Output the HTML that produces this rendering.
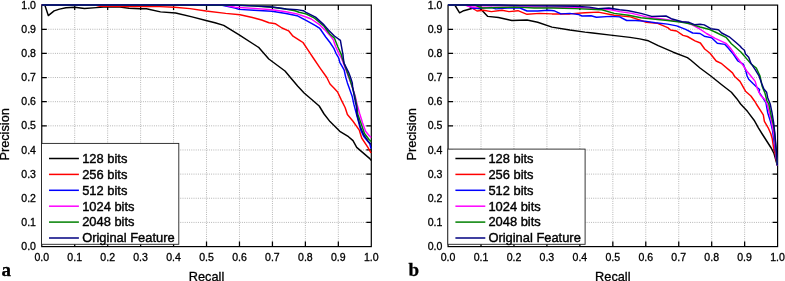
<!DOCTYPE html>
<html><head><meta charset="utf-8"><title>Precision-Recall</title>
<style>
html,body{margin:0;padding:0;background:#fff;}
svg{display:block;filter:blur(0.35px);}
.tk{font-family:"Liberation Sans",Arial,sans-serif;font-size:10.55px;fill:#000;stroke:#000;stroke-width:0.3px;}
.lg{font-family:"Liberation Sans",Arial,sans-serif;font-size:12.9px;fill:#000;stroke:#000;stroke-width:0.4px;}
.ax{font-family:"Liberation Sans",Arial,sans-serif;font-size:12.75px;fill:#000;stroke:#000;stroke-width:0.3px;}
.lt{font-family:"Liberation Serif","Times New Roman",serif;font-size:19px;font-weight:bold;fill:#000;stroke:#000;stroke-width:0.3px;}
</style></head><body>
<svg width="785" height="281" viewBox="0 0 785 281">
<rect width="785" height="281" fill="#fff"/>
<g>
<path d="M74.70 5.1V246.55M41.75 29.25H371.30M107.66 5.1V246.55M41.75 53.39H371.30M140.62 5.1V246.55M41.75 77.53H371.30M173.57 5.1V246.55M41.75 101.68H371.30M206.52 5.1V246.55M41.75 125.83H371.30M239.48 5.1V246.55M41.75 149.97H371.30M272.44 5.1V246.55M41.75 174.12H371.30M305.39 5.1V246.55M41.75 198.26H371.30M338.34 5.1V246.55M41.75 222.41H371.30" stroke="#8c8c8c" stroke-width="0.7" stroke-dasharray="0.9 1.3" fill="none"/>
<rect x="41.75" y="5.1" width="329.55" height="241.5" fill="none" stroke="#000" stroke-width="1.2"/>
<path d="M74.70 246.55v-5.0M74.70 5.1v5.0M41.75 29.25h5.0M371.30 29.25h-5.0M107.66 246.55v-5.0M107.66 5.1v5.0M41.75 53.39h5.0M371.30 53.39h-5.0M140.62 246.55v-5.0M140.62 5.1v5.0M41.75 77.53h5.0M371.30 77.53h-5.0M173.57 246.55v-5.0M173.57 5.1v5.0M41.75 101.68h5.0M371.30 101.68h-5.0M206.52 246.55v-5.0M206.52 5.1v5.0M41.75 125.83h5.0M371.30 125.83h-5.0M239.48 246.55v-5.0M239.48 5.1v5.0M41.75 149.97h5.0M371.30 149.97h-5.0M272.44 246.55v-5.0M272.44 5.1v5.0M41.75 174.12h5.0M371.30 174.12h-5.0M305.39 246.55v-5.0M305.39 5.1v5.0M41.75 198.26h5.0M371.30 198.26h-5.0M338.34 246.55v-5.0M338.34 5.1v5.0M41.75 222.41h5.0M371.30 222.41h-5.0" stroke="#000" stroke-width="1.25" fill="none"/>
<polyline points="41.8,5.0 44.8,5.0 48.3,15.6 54.1,10.9 59.5,9.1 66.0,7.8 74.7,7.2 84.5,8.5 96.4,7.6 107.3,6.9 118.2,6.9 129.0,8.2 139.9,8.7 146.4,8.7 160.5,11.9 175.7,13.0 192.0,16.9 206.0,20.5 215.0,22.7 223.7,25.4 238.8,34.6 257.2,46.5 259.0,47.7 268.8,59.0 285.0,71.0 290.0,77.0 297.6,86.0 304.1,93.0 311.7,99.5 319.2,106.0 324.1,114.0 330.0,121.6 339.8,131.3 348.5,136.7 353.0,140.6 356.7,147.4 369.8,158.6 371.3,160.5" stroke="#000000" stroke-width="1.45" fill="none" stroke-linejoin="round" stroke-linecap="butt"/>
<polyline points="41.8,5.0 95.0,5.0 100.0,6.4 130.0,6.5 160.0,6.6 174.6,7.2 190.0,8.6 206.0,11.0 225.7,13.4 240.0,14.8 252.4,17.5 261.6,20.0 269.0,22.7 275.6,23.8 282.0,28.0 288.6,30.8 293.0,36.2 300.0,40.6 303.0,42.5 308.4,50.6 313.3,58.0 320.3,68.3 326.8,77.5 330.0,84.0 333.9,88.0 337.6,92.0 341.4,100.1 345.2,107.7 347.4,114.5 352.8,121.0 359.3,130.2 361.7,138.0 367.9,147.4 371.0,153.0" stroke="#ff0000" stroke-width="1.45" fill="none" stroke-linejoin="round" stroke-linecap="butt"/>
<polyline points="41.8,5.0 221.0,5.0 227.0,6.4 235.0,8.0 239.0,9.4 254.0,10.2 272.0,11.3 286.0,13.5 297.0,15.7 305.6,20.2 315.5,25.6 319.8,28.4 320.9,30.0 325.7,37.0 330.0,42.5 333.9,48.4 336.0,53.3 338.7,58.0 339.8,62.3 344.1,69.9 345.8,77.5 347.4,82.9 348.5,86.0 352.3,96.8 353.9,104.4 355.6,110.9 358.2,120.5 360.8,130.2 363.6,136.2 369.8,143.7 371.0,148.7" stroke="#0000ff" stroke-width="1.45" fill="none" stroke-linejoin="round" stroke-linecap="butt"/>
<polyline points="41.8,5.0 224.0,5.0 235.0,7.3 254.0,8.4 272.0,9.7 286.0,11.8 297.0,13.9 306.0,17.0 311.2,19.0 319.8,24.9 325.5,30.6 329.5,34.9 333.3,39.7 335.5,46.2 338.7,53.3 341.4,58.0 346.3,71.0 349.6,79.7 352.6,88.0 355.4,96.8 357.1,104.4 359.8,114.0 362.5,122.7 365.6,131.3 369.5,136.0 371.2,137.5" stroke="#ff00ff" stroke-width="1.45" fill="none" stroke-linejoin="round" stroke-linecap="butt"/>
<polyline points="41.8,5.0 240.0,5.2 255.0,6.0 272.0,7.2 284.0,8.8 295.0,10.8 299.0,12.3 306.0,13.9 314.0,17.8 324.0,26.3 326.8,30.0 330.0,34.3 334.4,38.1 337.6,46.2 341.4,54.9 342.2,58.0 346.8,71.0 350.0,79.7 352.6,88.0 355.0,96.8 356.8,106.0 357.7,114.0 361.5,124.8 364.5,133.5 369.0,139.5 371.2,141.5" stroke="#008000" stroke-width="1.45" fill="none" stroke-linejoin="round" stroke-linecap="butt"/>
<polyline points="41.8,5.0 232.0,5.0 254.0,5.9 272.3,7.0 286.2,9.0 297.0,9.6 303.3,10.7 306.0,12.3 315.5,17.1 324.0,24.9 328.4,30.0 334.4,36.0 340.4,40.3 341.4,46.2 343.0,54.9 343.3,58.0 344.1,63.4 348.5,72.1 350.6,77.5 352.3,82.9 352.5,86.0 354.4,96.8 356.6,107.7 356.8,114.0 360.4,127.0 363.6,134.6 368.0,141.0 371.2,144.5" stroke="#000080" stroke-width="1.45" fill="none" stroke-linejoin="round" stroke-linecap="butt"/>
<rect x="41.5" y="143.4" width="137.3" height="100.9" fill="#fff" stroke="#222" stroke-width="0.9"/>
<path d="M49.0 158.5h29.9" stroke="#000000" stroke-width="1.5"/>
<text x="82.2" y="162.8" class="lg">128 bits</text>
<path d="M49.0 174.4h29.9" stroke="#ff0000" stroke-width="1.5"/>
<text x="82.2" y="178.7" class="lg">256 bits</text>
<path d="M49.0 190.3h29.9" stroke="#0000ff" stroke-width="1.5"/>
<text x="82.2" y="194.6" class="lg">512 bits</text>
<path d="M49.0 206.2h29.9" stroke="#ff00ff" stroke-width="1.5"/>
<text x="82.2" y="210.5" class="lg">1024 bits</text>
<path d="M49.0 222.1h29.9" stroke="#008000" stroke-width="1.5"/>
<text x="82.2" y="226.4" class="lg">2048 bits</text>
<path d="M49.0 238.0h29.9" stroke="#000080" stroke-width="1.5"/>
<text x="82.2" y="242.3" class="lg">Original Feature</text>
<text x="41.8" y="260.9" class="tk" text-anchor="middle">0.0</text>
<text x="36.0" y="250.1" class="tk" text-anchor="end">0.0</text>
<text x="74.7" y="260.9" class="tk" text-anchor="middle">0.1</text>
<text x="36.0" y="226.0" class="tk" text-anchor="end">0.1</text>
<text x="107.7" y="260.9" class="tk" text-anchor="middle">0.2</text>
<text x="36.0" y="201.8" class="tk" text-anchor="end">0.2</text>
<text x="140.6" y="260.9" class="tk" text-anchor="middle">0.3</text>
<text x="36.0" y="177.7" class="tk" text-anchor="end">0.3</text>
<text x="173.6" y="260.9" class="tk" text-anchor="middle">0.4</text>
<text x="36.0" y="153.5" class="tk" text-anchor="end">0.4</text>
<text x="206.5" y="260.9" class="tk" text-anchor="middle">0.5</text>
<text x="36.0" y="129.4" class="tk" text-anchor="end">0.5</text>
<text x="239.5" y="260.9" class="tk" text-anchor="middle">0.6</text>
<text x="36.0" y="105.2" class="tk" text-anchor="end">0.6</text>
<text x="272.4" y="260.9" class="tk" text-anchor="middle">0.7</text>
<text x="36.0" y="81.1" class="tk" text-anchor="end">0.7</text>
<text x="305.4" y="260.9" class="tk" text-anchor="middle">0.8</text>
<text x="36.0" y="56.9" class="tk" text-anchor="end">0.8</text>
<text x="338.3" y="260.9" class="tk" text-anchor="middle">0.9</text>
<text x="36.0" y="32.8" class="tk" text-anchor="end">0.9</text>
<text x="371.3" y="260.9" class="tk" text-anchor="middle">1.0</text>
<text x="36.0" y="8.6" class="tk" text-anchor="end">1.0</text>
<text x="206.5" y="280.7" class="ax" text-anchor="middle">Recall</text>
<text transform="translate(9.2 134.4) rotate(-90)" class="ax" text-anchor="middle">Precision</text>
<text x="1.5" y="276.3" class="lt">a</text>
</g>
<g>
<path d="M481.00 5.1V246.55M448.05 29.25H777.60M513.96 5.1V246.55M448.05 53.39H777.60M546.91 5.1V246.55M448.05 77.53H777.60M579.87 5.1V246.55M448.05 101.68H777.60M612.83 5.1V246.55M448.05 125.83H777.60M645.78 5.1V246.55M448.05 149.97H777.60M678.74 5.1V246.55M448.05 174.12H777.60M711.69 5.1V246.55M448.05 198.26H777.60M744.64 5.1V246.55M448.05 222.41H777.60" stroke="#8c8c8c" stroke-width="0.7" stroke-dasharray="0.9 1.3" fill="none"/>
<rect x="448.05" y="5.1" width="329.55" height="241.5" fill="none" stroke="#000" stroke-width="1.2"/>
<path d="M481.00 246.55v-5.0M481.00 5.1v5.0M448.05 29.25h5.0M777.60 29.25h-5.0M513.96 246.55v-5.0M513.96 5.1v5.0M448.05 53.39h5.0M777.60 53.39h-5.0M546.91 246.55v-5.0M546.91 5.1v5.0M448.05 77.53h5.0M777.60 77.53h-5.0M579.87 246.55v-5.0M579.87 5.1v5.0M448.05 101.68h5.0M777.60 101.68h-5.0M612.83 246.55v-5.0M612.83 5.1v5.0M448.05 125.83h5.0M777.60 125.83h-5.0M645.78 246.55v-5.0M645.78 5.1v5.0M448.05 149.97h5.0M777.60 149.97h-5.0M678.74 246.55v-5.0M678.74 5.1v5.0M448.05 174.12h5.0M777.60 174.12h-5.0M711.69 246.55v-5.0M711.69 5.1v5.0M448.05 198.26h5.0M777.60 198.26h-5.0M744.64 246.55v-5.0M744.64 5.1v5.0M448.05 222.41h5.0M777.60 222.41h-5.0" stroke="#000" stroke-width="1.25" fill="none"/>
<polyline points="448.0,5.0 454.8,5.0 459.6,12.8 463.7,10.7 473.5,8.0 480.7,8.9 487.8,16.4 498.5,17.5 511.9,20.5 527.0,20.0 537.7,22.3 552.0,27.1 569.8,30.0 585.0,32.1 592.8,33.0 610.7,35.1 630.0,37.4 639.7,38.9 648.4,40.8 658.2,45.7 673.3,52.2 687.4,57.6 690.6,60.0 700.0,68.0 710.8,76.0 721.7,84.7 731.4,92.2 736.8,98.7 740.6,104.0 747.6,111.6 754.1,120.2 758.4,127.8 762.2,134.0 771.2,148.0 774.0,153.5 777.3,165.3" stroke="#000000" stroke-width="1.45" fill="none" stroke-linejoin="round" stroke-linecap="butt"/>
<polyline points="448.0,5.0 467.0,5.0 477.0,11.0 483.3,10.3 491.4,11.6 502.0,10.3 509.0,11.6 518.0,10.7 527.0,14.3 539.5,13.4 552.0,13.9 569.8,13.9 585.0,12.8 598.2,12.1 614.2,15.2 630.3,16.9 646.3,22.3 657.0,23.2 667.7,27.6 670.6,30.0 676.6,31.0 683.0,35.4 687.4,36.5 695.0,40.8 700.4,43.0 704.7,49.0 710.0,53.3 716.2,61.0 721.7,63.7 732.5,72.9 734.7,76.5 740.0,81.4 745.5,91.2 750.9,96.0 755.2,102.0 756.3,104.0 763.3,114.8 764.4,121.3 768.2,127.8 770.9,134.0 772.2,138.5 773.6,147.8 775.2,154.0 777.3,165.3" stroke="#ff0000" stroke-width="1.45" fill="none" stroke-linejoin="round" stroke-linecap="butt"/>
<polyline points="448.0,5.0 467.0,5.0 469.5,6.4 473.5,8.6 480.7,8.0 491.4,7.5 495.8,8.9 507.4,8.0 520.0,8.0 527.0,11.0 537.7,11.0 548.4,10.3 553.8,10.7 561.0,13.9 569.8,13.4 578.8,14.6 582.0,16.0 591.0,15.7 596.4,17.3 610.7,16.4 619.6,16.9 626.7,20.5 635.6,20.5 646.3,21.4 655.3,22.8 667.7,24.1 676.7,25.9 685.6,29.4 692.7,33.0 700.0,33.5 704.3,36.2 711.9,37.9 717.3,43.3 724.9,44.4 728.2,48.0 733.6,54.5 737.9,61.0 743.3,64.2 745.5,69.7 747.1,76.0 748.7,79.2 753.0,83.6 756.3,86.8 759.6,89.5 759.0,92.2 762.8,97.7 766.0,103.0 767.7,112.7 770.4,121.3 772.5,130.0 773.0,134.0 775.5,152.0 777.3,165.3" stroke="#0000ff" stroke-width="1.45" fill="none" stroke-linejoin="round" stroke-linecap="butt"/>
<polyline points="448.0,5.0 465.0,5.0 470.0,6.8 478.0,7.3 500.0,7.2 520.0,7.0 534.0,6.9 552.0,7.2 575.0,7.3 596.4,8.6 610.7,9.8 619.6,11.6 632.0,13.4 646.3,16.9 660.6,18.7 674.9,21.0 685.6,22.3 692.7,25.0 700.0,29.2 706.5,33.5 715.2,38.4 726.0,43.3 730.3,48.0 735.7,55.6 742.2,64.2 746.6,70.7 750.9,76.0 755.2,81.4 757.4,89.0 760.6,95.5 765.0,99.8 767.0,104.0 769.3,112.7 771.5,121.3 773.0,130.0 774.0,134.0 775.8,152.0 777.3,165.3" stroke="#ff00ff" stroke-width="1.45" fill="none" stroke-linejoin="round" stroke-linecap="butt"/>
<polyline points="448.0,5.0 475.0,5.0 478.9,6.8 482.5,8.0 498.5,7.5 516.3,7.1 534.2,8.0 552.0,8.0 575.0,8.6 601.8,9.8 614.2,13.4 628.5,15.2 641.0,17.8 655.3,19.3 667.7,20.5 682.0,22.3 691.0,24.1 700.0,27.0 708.7,29.2 716.2,32.5 726.0,37.3 731.4,43.8 736.3,48.0 741.1,52.3 747.6,59.9 750.9,63.7 756.3,68.0 759.6,75.0 760.0,76.0 762.3,86.8 765.0,93.3 767.0,101.0 768.8,104.0 771.0,114.8 773.6,125.7 774.7,134.0 776.2,152.0 777.3,165.3" stroke="#008000" stroke-width="1.45" fill="none" stroke-linejoin="round" stroke-linecap="butt"/>
<polyline points="448.0,5.0 500.0,5.0 520.0,5.6 560.0,6.0 575.0,6.3 589.3,7.1 598.2,8.6 608.9,8.0 619.6,9.8 628.5,10.7 641.0,13.4 651.7,16.4 666.0,16.0 671.3,18.7 682.0,21.8 689.0,22.3 694.5,24.6 700.0,24.3 704.3,24.9 710.8,28.7 718.4,29.7 721.7,33.0 729.2,36.8 735.7,42.2 740.0,46.0 741.7,48.0 744.4,50.2 745.5,54.0 748.7,57.2 750.9,63.2 755.2,69.7 759.0,76.0 761.7,83.6 763.9,89.0 766.6,92.2 767.7,97.7 770.2,104.0 772.0,112.7 773.6,122.4 774.9,134.0 776.5,152.0 777.3,165.3" stroke="#000080" stroke-width="1.45" fill="none" stroke-linejoin="round" stroke-linecap="butt"/>
<rect x="447.8" y="149.1" width="137.3" height="95.2" fill="#fff" stroke="#222" stroke-width="0.9"/>
<path d="M455.4 158.5h29.9" stroke="#000000" stroke-width="1.5"/>
<text x="488.4" y="162.8" class="lg">128 bits</text>
<path d="M455.4 174.4h29.9" stroke="#ff0000" stroke-width="1.5"/>
<text x="488.4" y="178.7" class="lg">256 bits</text>
<path d="M455.4 190.3h29.9" stroke="#0000ff" stroke-width="1.5"/>
<text x="488.4" y="194.6" class="lg">512 bits</text>
<path d="M455.4 206.2h29.9" stroke="#ff00ff" stroke-width="1.5"/>
<text x="488.4" y="210.5" class="lg">1024 bits</text>
<path d="M455.4 222.1h29.9" stroke="#008000" stroke-width="1.5"/>
<text x="488.4" y="226.4" class="lg">2048 bits</text>
<path d="M455.4 238.0h29.9" stroke="#000080" stroke-width="1.5"/>
<text x="488.4" y="242.3" class="lg">Original Feature</text>
<text x="448.1" y="260.9" class="tk" text-anchor="middle">0.0</text>
<text x="442.4" y="250.1" class="tk" text-anchor="end">0.0</text>
<text x="481.0" y="260.9" class="tk" text-anchor="middle">0.1</text>
<text x="442.4" y="226.0" class="tk" text-anchor="end">0.1</text>
<text x="514.0" y="260.9" class="tk" text-anchor="middle">0.2</text>
<text x="442.4" y="201.8" class="tk" text-anchor="end">0.2</text>
<text x="546.9" y="260.9" class="tk" text-anchor="middle">0.3</text>
<text x="442.4" y="177.7" class="tk" text-anchor="end">0.3</text>
<text x="579.9" y="260.9" class="tk" text-anchor="middle">0.4</text>
<text x="442.4" y="153.5" class="tk" text-anchor="end">0.4</text>
<text x="612.8" y="260.9" class="tk" text-anchor="middle">0.5</text>
<text x="442.4" y="129.4" class="tk" text-anchor="end">0.5</text>
<text x="645.8" y="260.9" class="tk" text-anchor="middle">0.6</text>
<text x="442.4" y="105.2" class="tk" text-anchor="end">0.6</text>
<text x="678.7" y="260.9" class="tk" text-anchor="middle">0.7</text>
<text x="442.4" y="81.1" class="tk" text-anchor="end">0.7</text>
<text x="711.7" y="260.9" class="tk" text-anchor="middle">0.8</text>
<text x="442.4" y="56.9" class="tk" text-anchor="end">0.8</text>
<text x="744.6" y="260.9" class="tk" text-anchor="middle">0.9</text>
<text x="442.4" y="32.8" class="tk" text-anchor="end">0.9</text>
<text x="777.6" y="260.9" class="tk" text-anchor="middle">1.0</text>
<text x="442.4" y="8.6" class="tk" text-anchor="end">1.0</text>
<text x="612.8" y="280.7" class="ax" text-anchor="middle">Recall</text>
<text transform="translate(415.6 134.4) rotate(-90)" class="ax" text-anchor="middle">Precision</text>
<text x="408.5" y="276.3" class="lt">b</text>
</g>
</svg>
</body></html>
